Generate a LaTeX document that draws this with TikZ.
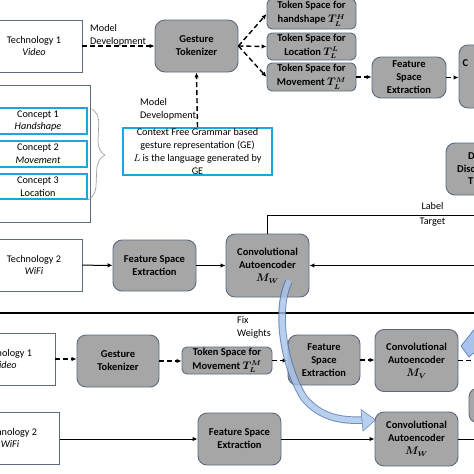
\documentclass[tikz,border=0pt]{standalone}
\usepackage{fontspec}
\setmainfont{Carlito}
\usetikzlibrary{arrows.meta,decorations.pathreplacing}
\definecolor{slate}{HTML}{5B6B80}
\definecolor{boxgray}{HTML}{A6A6A6}
\definecolor{cyanb}{HTML}{1BA6DD}
\definecolor{arrfill}{HTML}{A8C3EA}
\definecolor{arrline}{HTML}{4A70AE}
\definecolor{bracegray}{HTML}{A0A0A8}
\newcommand{\regfont}{\fontsize{10.2}{12.8}\selectfont}
\newcommand{\boldfont}{\fontsize{10.5}{13}\selectfont\bfseries}
\newcommand{\tokfont}{\fontsize{10.5}{14}\selectfont\bfseries}
\newcommand{\tsym}[2]{{\boldmath$T^{#1}_{#2}$}}
\tikzset{
 techbox/.style={draw=slate, fill=white, line width=0.9pt, inner sep=0pt, align=center, font=\regfont},
 graybox/.style={draw=slate, fill=boxgray, line width=0.9pt, rounded corners=9pt, inner sep=0pt, align=center, font=\boldfont},
 tokbox/.style={graybox, rounded corners=5pt, font=\tokfont},
 conbox/.style={draw=cyanb, line width=1.8pt, fill=white, inner sep=0pt, align=center, font=\regfont},
 dasharr/.style={line width=1.4pt, dash pattern=on 5pt off 3pt, -{Latex[length=5pt,width=4.5pt]}},
 dashline/.style={line width=1.4pt, dash pattern=on 5pt off 3pt},
 solarr/.style={line width=1pt, -{Latex[length=5pt,width=4.5pt]}},
 solline/.style={line width=1pt},
 lbl/.style={inner sep=0pt, align=left, font=\regfont},
 cutlbl/.style={inner sep=0pt, anchor=west, font=\boldfont},
}
\begin{document}
\begin{tikzpicture}[x=1pt,y=-1pt]
\useasboundingbox (0,0) rectangle (474,474);
\clip (0,0) rectangle (474,474);
\fill[white] (0,0) rectangle (474,474);

% ---------- top section ----------
\node[techbox, minimum width=96pt, minimum height=52pt] (tech1) at (34,46) {Technology 1\\\textit{Video}};
\node[graybox, minimum width=83pt, minimum height=52pt, rounded corners=10pt] (gt1) at (196.5,46) {Gesture\\Tokenizer};
\node[tokbox, minimum width=89pt, minimum height=30pt] (th) at (311.5,14) {Token Space for\\handshape \tsym{H}{L}};
\node[tokbox, minimum width=89pt, minimum height=27pt] (tloc) at (311.5,46.5) {Token Space for\\Location \tsym{L}{L}};
\node[tokbox, minimum width=89pt, minimum height=28pt] (tmov) at (311.5,77) {Token Space for\\Movement \tsym{M}{L}};
\node[graybox, minimum width=74pt, minimum height=41pt] (fse1) at (409,77.5) {Feature\\Space\\Extraction};
\node[graybox, minimum width=80pt, minimum height=63pt] (cae1) at (499,76.5) {};
\node[cutlbl] (cae1t) at (462.5,63) {C};

\node[lbl, anchor=west] (md1) at (90,35.5) {Model\\Development};
\draw[dasharr] (tech1) -- (gt1);
\draw[dasharr] (gt1.east) -- (th.west);
\draw[dasharr] (gt1.east) -- (tloc.west);
\draw[dasharr] (gt1.east) -- (tmov.west);
\draw[dasharr] (tmov.east) -- (tmov.east -| fse1.west);
\draw[dasharr] (fse1.east) -- (fse1.east -| cae1.west);

% concepts
\node[draw=slate, fill=white, line width=0.9pt, minimum width=100pt, minimum height=137pt] (cbig) at (40,153.5) {};
\node[conbox, minimum width=98pt, minimum height=26pt] (c1) at (38,121) {Concept 1\\\textit{Handshape}};
\node[conbox, minimum width=98pt, minimum height=26pt] (c2) at (38,154) {Concept 2\\\textit{Movement}};
\node[conbox, minimum width=98pt, minimum height=25pt] (c3) at (38,186.5) {Concept 3\\Location};
\draw[bracegray, line width=0.7pt, decorate, decoration={brace, amplitude=15pt, aspect=0.5}] (c1.north east) ++(4,2) coordinate (br1) -- (c3.south east) ++(4,-2) coordinate (br2);

\node[conbox, minimum width=149pt, minimum height=47pt] (cfg) at (197.5,151.5) {Context Free Grammar based\\gesture representation (GE)\\$L$ is the language generated by\\GE};
\node[lbl, anchor=west] (md2) at (140,109.5) {Model\\Development};
\draw[dasharr] (cfg.north) -- (gt1.south);

\node[graybox, minimum width=100pt, minimum height=52pt] (dd) at (496,169) {};
\node[cutlbl] (ddt1) at (468,156) {D};
\node[cutlbl] (ddt2) at (457,168.5) {Disc};
\node[cutlbl] (ddt3) at (468,181) {T};

\node[inner sep=0pt, align=center, font=\fontsize{10.2}{15}\selectfont] (lt) at (432.5,214.5) {Label\\Target};

\node[techbox, minimum width=96pt, minimum height=52pt] (tech2) at (34,265) {Technology 2\\\textit{WiFi}};
\node[graybox, minimum width=83pt, minimum height=51pt] (fse2) at (154.5,265.5) {Feature Space\\Extraction};
\node[graybox, minimum width=83pt, minimum height=63pt] (cae2) at (267.5,265.5) {Convolutional\\Autoencoder\\{\boldmath$M_W$}};
\coordinate (ltR) at (480,215);
\coordinate (arR) at (480,265.5);
\draw[solarr] (tech2) -- (fse2);
\draw[solarr] (fse2) -- (cae2);
\draw[solline] (cae2.north) |- (ltR);
\draw[solarr] (arR) -- (cae2.east);

% separator
\coordinate (sepL) at (-5,313);
\coordinate (sepR) at (480,313);
\draw[line width=2.3pt] (sepL) -- (sepR);
\node[lbl, anchor=west] (fw) at (237,327.5) {Fix\\Weights};

% ---------- bottom section ----------
\node[techbox, minimum width=100pt, minimum height=52pt] (tech3) at (5,359) {Technology 1\\\textit{Video}};
\node[graybox, minimum width=82pt, minimum height=52pt] (gt2) at (118,361) {Gesture\\Tokenizer};
\node[tokbox, minimum width=90pt, minimum height=27pt] (tm2) at (227,360.5) {Token Space for\\Movement \tsym{M}{L}};
\node[graybox, minimum width=72pt, minimum height=50pt] (fse3) at (324,360) {Feature\\Space\\Extraction};
\node[graybox, minimum width=83pt, minimum height=62pt] (cae3) at (416.5,360.5) {Convolutional\\Autoencoder\\{\boldmath$M_V$}};
\coordinate (c3R) at (480,360.5);
\draw[dasharr] (tech3.east) -- (tech3.east -| gt2.west);
\draw[dasharr] (gt2.east) -- (gt2.east -| tm2.west);
\draw[dasharr] (tm2.east) -- (tm2.east -| fse3.west);
\draw[dasharr] (fse3.east) -- (fse3.east -| cae3.west);
\draw[dashline] (cae3.east) -- (c3R);

\node[graybox, minimum width=82pt, minimum height=35pt] (rb) at (510,405.5) {};
\filldraw[fill=arrfill, draw=arrline, line width=0.6pt] (476,327) -- (461,346) -- (469,357) -- (476,351) -- cycle;

\node[techbox, minimum width=99pt, minimum height=52pt] (tech4) at (10,438) {Technology 2\\\textit{WiFi}};
\node[graybox, minimum width=83pt, minimum height=52pt] (fse4) at (239.5,439) {Feature Space\\Extraction};
\node[graybox, minimum width=83pt, minimum height=54pt] (cae4) at (416.5,439) {Convolutional\\Autoencoder\\{\boldmath$M_W$}};
\coordinate (c4R) at (480,439);
\draw[solarr] (tech4.east |- fse4.west) -- (fse4.west);
\draw[solarr] (fse4) -- (cae4);
\draw[solline] (cae4.east) -- (c4R);

% ---------- fix-weights curved arrow ----------
\begin{scope}[transparency group, opacity=0.8]
\draw[arrline, line width=7.5pt] (289,281) .. controls (274,312) and (285,368) .. (304,398) .. controls (320,417) and (340,421) .. (362,420);
\draw[arrfill, line width=5.6pt] (289.3,280.4) .. controls (274,312) and (285,368) .. (304,398) .. controls (320,417) and (340,421) .. (362.6,420);
\filldraw[fill=arrfill, draw=arrline, line width=0.6pt] (361,409.5) -- (375.5,420) -- (363,431) -- cycle;
\end{scope}
\end{tikzpicture}
\end{document}
